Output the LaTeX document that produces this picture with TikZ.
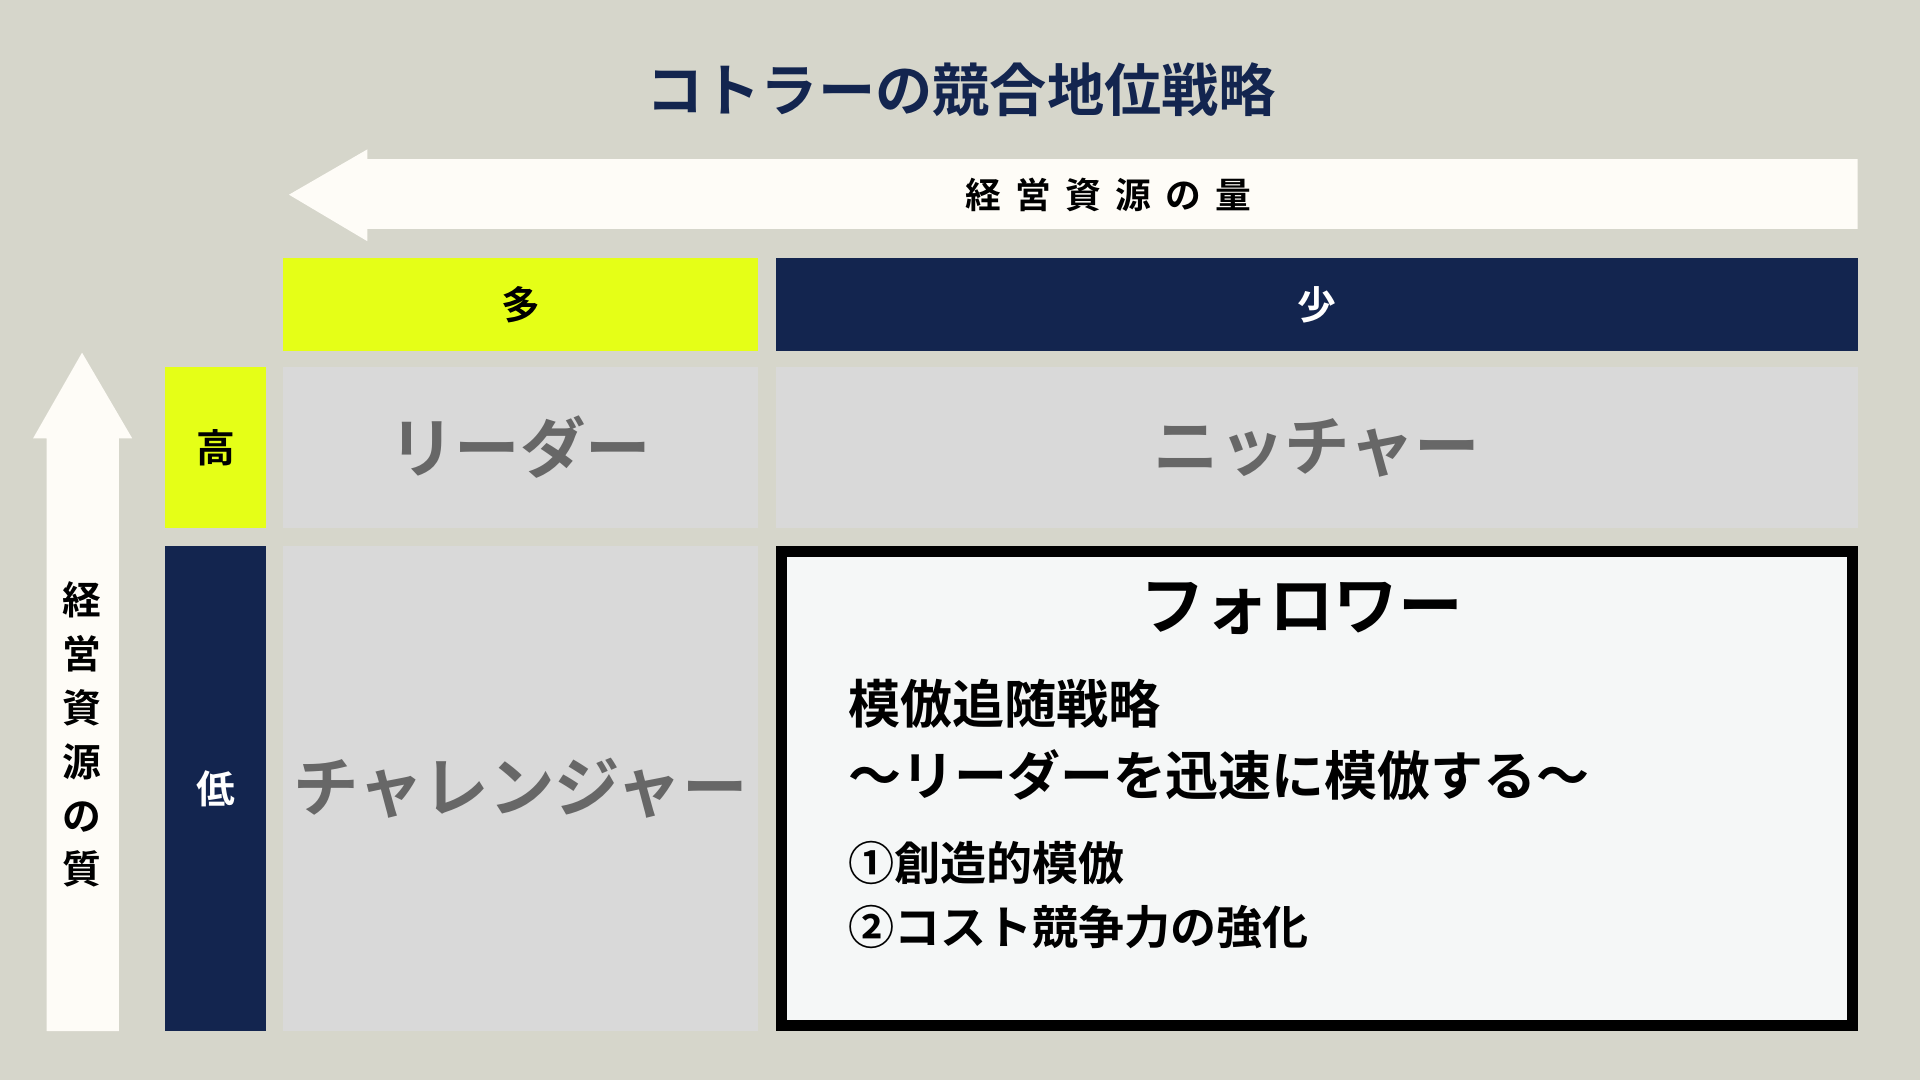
\documentclass[tikz,border=0pt]{standalone}
\usepackage{fontspec}
\setmainfont{Noto Sans CJK JP}[BoldFont={* Bold}]
\newfontfamily\widejp{Noto Sans CJK JP}[BoldFont={* Bold},LetterSpace=40]
\definecolor{bgback}{HTML}{D6D6CB}
\definecolor{navy}{HTML}{13254F}
\definecolor{lime}{HTML}{E5FF17}
\definecolor{cellgray}{HTML}{D9D9D9}
\definecolor{labelgray}{HTML}{676767}
\definecolor{offwhite}{HTML}{FEFCF7}
\definecolor{paper}{HTML}{F5F7F7}
\begin{document}
\begin{tikzpicture}[x=0.01cm,y=-0.01cm,font=\bfseries,
  cell/.style={inner sep=0pt,minimum width=#1},
  axislabel/.style={font=\bfseries\fontsize{9}{11}\selectfont},
  bigname/.style={font=\bfseries\fontsize{15.2}{18}\selectfont,text=labelgray},
  bodyline/.style={anchor=west,inner sep=0pt}]
  \fill[bgback] (0,0) rectangle (1568,882);
  \useasboundingbox (0,0) rectangle (1568,882);
  % title
  \node[font=\bfseries\fontsize{13.3}{15}\selectfont,text=navy] (title) at (785,73) {コトラーの競合地位戦略};
  % arrows
  \fill[offwhite] (236,159) -- (300,122) -- (300,130) -- (1517,130) -- (1517,187)
    -- (300,187) -- (300,197) -- cycle;
  \node[font=\widejp\bfseries\fontsize{8.3}{10}\selectfont] (amount) at (905,159) {経営資源の量};
  \fill[offwhite] (67,288) -- (108,358) -- (97,358) -- (97,842) -- (38,842)
    -- (38,358) -- (27,358) -- cycle;
  \node[font=\bfseries\fontsize{9}{12.5}\selectfont,align=center] (quality) at (67,600)
    {経\\営\\資\\源\\の\\質};
  % headers
  \node[cell=3.88cm,minimum height=0.76cm,fill=lime,axislabel] (many) at (425,249) {多};
  \node[cell=8.83cm,minimum height=0.76cm,fill=navy,text=white,axislabel] (few) at (1075.5,249) {少};
  \node[cell=0.82cm,minimum height=1.31cm,fill=lime,axislabel] (high) at (176,365.5) {高};
  \node[cell=0.82cm,minimum height=3.96cm,fill=navy,text=white,axislabel] (low) at (176,644) {低};
  % quadrants
  \node[cell=3.88cm,minimum height=1.31cm,fill=cellgray,bigname] (leader) at (425,365.5) {リーダー};
  \node[cell=8.83cm,minimum height=1.31cm,fill=cellgray,bigname] (nicher) at (1075.5,365.5) {ニッチャー};
  \node[cell=3.88cm,minimum height=3.96cm,fill=cellgray,bigname] (challenger) at (425,644) {チャレンジャー};
  \node[cell=8.74cm,minimum height=3.87cm,fill=paper,draw=black,line width=2.45pt] (follower) at (1075.5,644) {};
  \node[font=\bfseries\fontsize{15}{18}\selectfont] (followername) at (1063,497) {フォロワー};
  \node[bodyline,font=\bfseries\fontsize{12.1}{14}\selectfont] (strategy) at (692,575) {模倣追随戦略};
  \node[bodyline,font=\bfseries\fontsize{12.3}{14}\selectfont] (motto) at (692,633) {～リーダーを迅速に模倣する～};
  \node[bodyline,font=\bfseries\fontsize{10.7}{13}\selectfont] (pointone) at (692,705) {①創造的模倣};
  \node[bodyline,font=\bfseries\fontsize{10.7}{13}\selectfont] (pointtwo) at (692,757) {②コスト競争力の強化};
\end{tikzpicture}
\end{document}
